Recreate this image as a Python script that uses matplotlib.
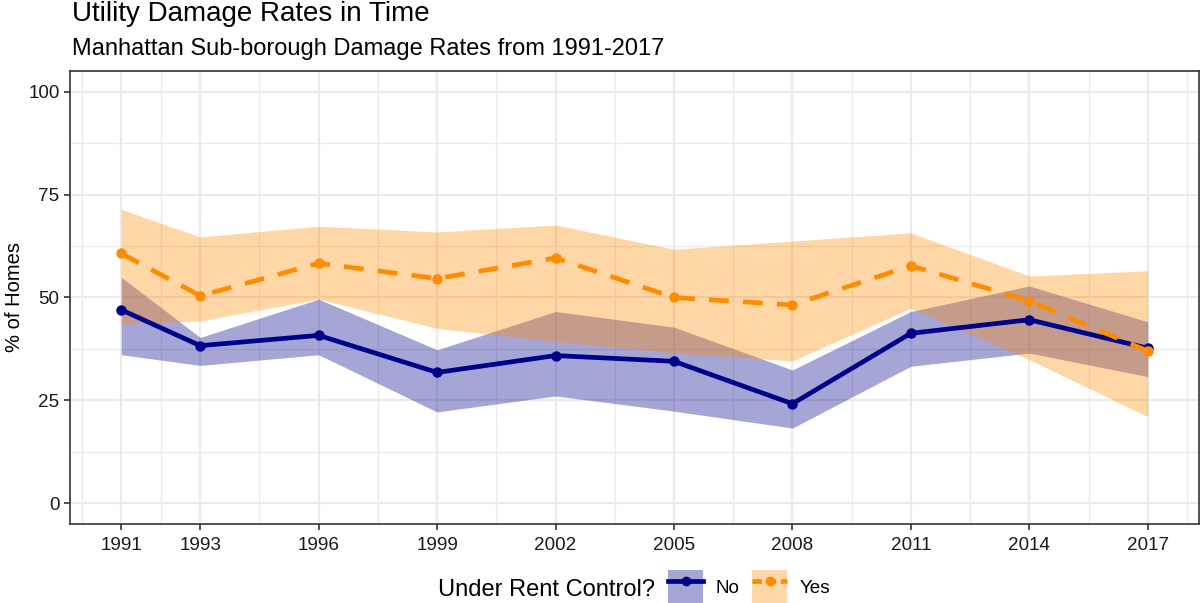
import numpy as np
import matplotlib.pyplot as plt
from matplotlib.patches import Patch
from matplotlib.lines import Line2D

plt.rcParams['font.family'] = ['Liberation Sans', 'DejaVu Sans']

years = [1991, 1993, 1996, 1999, 2002, 2005, 2008, 2011, 2014, 2017]

# not under rent control
no_rate = [47.0, 38.3, 40.8, 31.8, 35.9, 34.5, 24.2, 41.3, 44.6, 37.7]
no_low = [36.1, 33.5, 36.1, 22.2, 26.1, 22.4, 18.3, 33.3, 36.5, 30.8]
no_high = [54.9, 40.3, 49.6, 37.3, 46.6, 42.8, 32.4, 46.6, 52.8, 44.1]

# under rent control
yes_rate = [60.7, 50.4, 58.3, 54.6, 59.6, 50.0, 48.2, 57.7, 49.2, 37.0]
yes_low = [43.6, 44.3, 49.6, 42.5, 39.3, 36.5, 34.6, 47.4, 34.9, 21.1]
yes_high = [71.4, 64.7, 67.3, 65.9, 67.6, 61.7, 63.7, 65.7, 55.2, 56.5]

y_ticks = [0, 25, 50, 75, 100]

no_color = "#00008B"
yes_color = "#FF8C00"
grid_color = "#EBEBEB"

fig = plt.figure(figsize=(12, 6.03), dpi=100)
ax = fig.add_axes([0.0583, 0.131, 0.9409, 0.7513])

# gridlines (ggplot style: minor between majors)
yr = np.array(years, dtype=float)
x_minor = list((yr[:-1] + yr[1:]) / 2) + [yr[0] - 1, yr[-1] + 1]
y_minor = [12.5, 37.5, 62.5, 87.5]
for x in x_minor:
    ax.axvline(x, color=grid_color, lw=1.0, zorder=0)
for y in y_minor:
    ax.axhline(y, color=grid_color, lw=1.0, zorder=0)
for x in years:
    ax.axvline(x, color=grid_color, lw=1.6, zorder=0)
for y in y_ticks:
    ax.axhline(y, color=grid_color, lw=1.6, zorder=0)

ax.fill_between(years, no_low, no_high, color=no_color, alpha=0.35, lw=0, zorder=1)
ax.fill_between(years, yes_low, yes_high, color=yes_color, alpha=0.35, lw=0, zorder=2)

ax.plot(years, no_rate, color=no_color, lw=3.4, marker='o', ms=6.5,
        solid_capstyle='butt', zorder=3)
ax.plot(years, yes_rate, color=yes_color, lw=3.4, marker='o', ms=6.5,
        dashes=(4.2, 3.0), zorder=4)

ax.set_xlim(1989.7, 2018.3)
ax.set_ylim(-5, 105)
ax.set_xticks(years)
ax.set_xticklabels([str(y) for y in years])
ax.set_yticks(y_ticks)
ax.tick_params(axis='both', labelsize=13.6, colors='#333333', length=4, width=1.2,
               labelcolor='#1a1a1a')
ax.tick_params(axis='x', pad=5)
for s in ax.spines.values():
    s.set_color('#333333')
    s.set_linewidth(1.2)

fig.text(0.0125, 0.131 + 0.7513 / 2, "% of Homes", fontsize=14.5, rotation=90,
         ha='center', va='center')

fig.text(0.06, 0.965, "Utility Damage Rates in Time", fontsize=20, va='baseline')
fig.text(0.06, 0.909, "Manhattan Sub-borough Damage Rates from 1991-2017", fontsize=17, va='baseline')

# legend at bottom
fig.text(0.365, 0.012, "Under Rent Control?", fontsize=17, va='baseline')
h_no = (Patch(facecolor=no_color, alpha=0.35, lw=0),
        Line2D([], [], color=no_color, lw=3.4, marker='o', ms=6))
h_yes = (Patch(facecolor=yes_color, alpha=0.35, lw=0),
         Line2D([], [], color=yes_color, lw=3.4, marker='o', ms=6, dashes=(2, 1)))
fig.legend([h_no, h_yes], ["No", "Yes"], loc='center left',
           bbox_to_anchor=(0.5567, 0.026), ncol=2, frameon=False, fontsize=13.6,
           handlelength=1.85, handleheight=2.5, handletextpad=0.65, columnspacing=0.7,
           borderpad=0, borderaxespad=0)

plt.savefig("out.png", dpi=100)
